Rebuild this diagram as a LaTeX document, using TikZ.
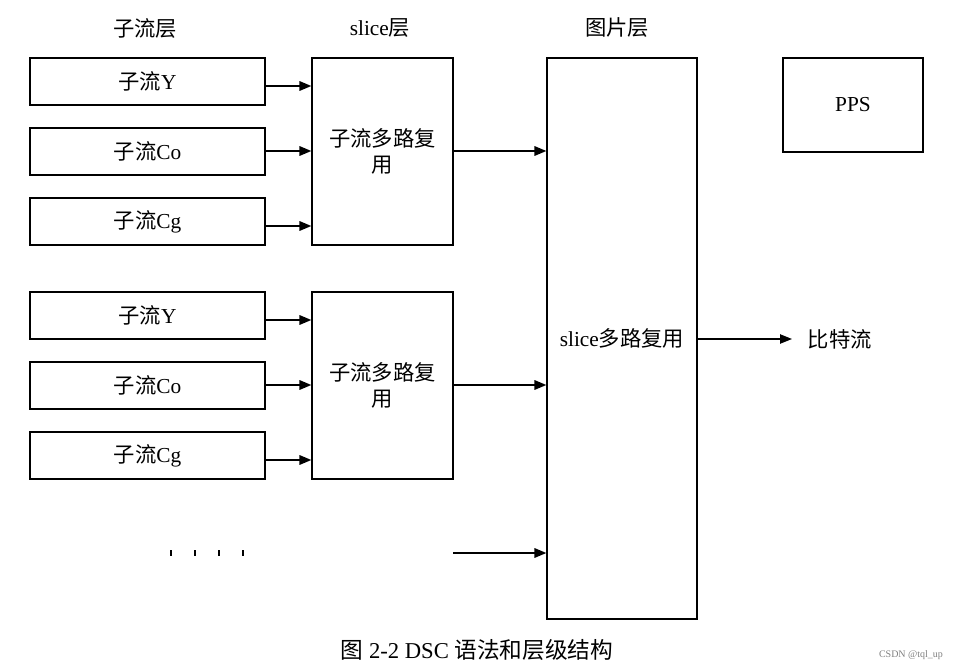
\documentclass[tikz,border=0pt]{standalone}
\usepackage{fontspec}
\setmainfont{Liberation Serif}
\newfontfamily\cjk{Noto Sans CJK SC}
\usetikzlibrary{arrows.meta}
\begin{document}
\begin{tikzpicture}[x=0.75pt,y=-0.75pt,
  box/.style={draw,line width=0.8pt,inner sep=0pt},
  arr/.style={-{Triangle[length=9pt,width=7pt]},line width=1.6pt},
  txt/.style={font=\fontsize{16}{20}\selectfont}]
\useasboundingbox (0,0) rectangle (964,670);
\foreach \n/\t/\y in {a/Y/58,b/Co/128,c/Cg/198,d/Y/292,e/Co/362,f/Cg/432}{
  \node[box,minimum width=176.25pt,minimum height=35.25pt,txt] (\n) at (147.5,\y+23.5) {{\cjk 子流}\t};
}
\node[box,minimum width=105.75pt,minimum height=140.25pt,txt,align=center] (m1) at (382.5,151.5) {{\cjk 子流多路复}\\{\cjk 用}};
\node[box,minimum width=105.75pt,minimum height=140.25pt,txt,align=center] (m2) at (382.5,385.5) {{\cjk 子流多路复}\\{\cjk 用}};
\node[box,minimum width=112.5pt,minimum height=420.75pt,txt] (p) at (622,338.5) {slice{\cjk 多路复用}};
\node[box,minimum width=105pt,minimum height=70.5pt,txt] (pps) at (853,105) {PPS};
\node[txt,anchor=west] (bs) at (803,339) {\cjk 比特流};
\node[txt] (h1) at (145,28) {\cjk 子流层};
\node[txt] (h2) at (380,28) {slice{\cjk 层}};
\node[txt] (h3) at (617,28) {\cjk 图片层};
\node[font=\fontsize{17}{20}\selectfont] (cap) at (477,650) {{\cjk 图} 2-2 DSC {\cjk 语法和层级结构}};
\node[font=\fontsize{7.5}{9}\selectfont,text=gray] (wm) at (911,655) {CSDN @tql\_up};
\foreach \x in {171,195,219,243}{\draw[line width=0.8pt] (\x,550) -- (\x,556);}
\foreach \n/\m/\y in {a/m1/86,b/m1/151,c/m1/226,d/m2/320,e/m2/385,f/m2/460}{
  \draw[arr] (\n.east |- 0,\y) -- (\m.west |- 0,\y);
}
\draw[arr] (m1.east |- 0,151) -- (p.west |- 0,151);
\draw[arr] (m2.east |- 0,385) -- (p.west |- 0,385);
\coordinate (ds) at (453,553);
\draw[arr] (ds) -- (p.west |- ds);
\draw[-{Triangle[length=9pt,width=7pt]},line width=1pt] (p.east |- 0,339) -- (792,339);
\end{tikzpicture}
\end{document}
